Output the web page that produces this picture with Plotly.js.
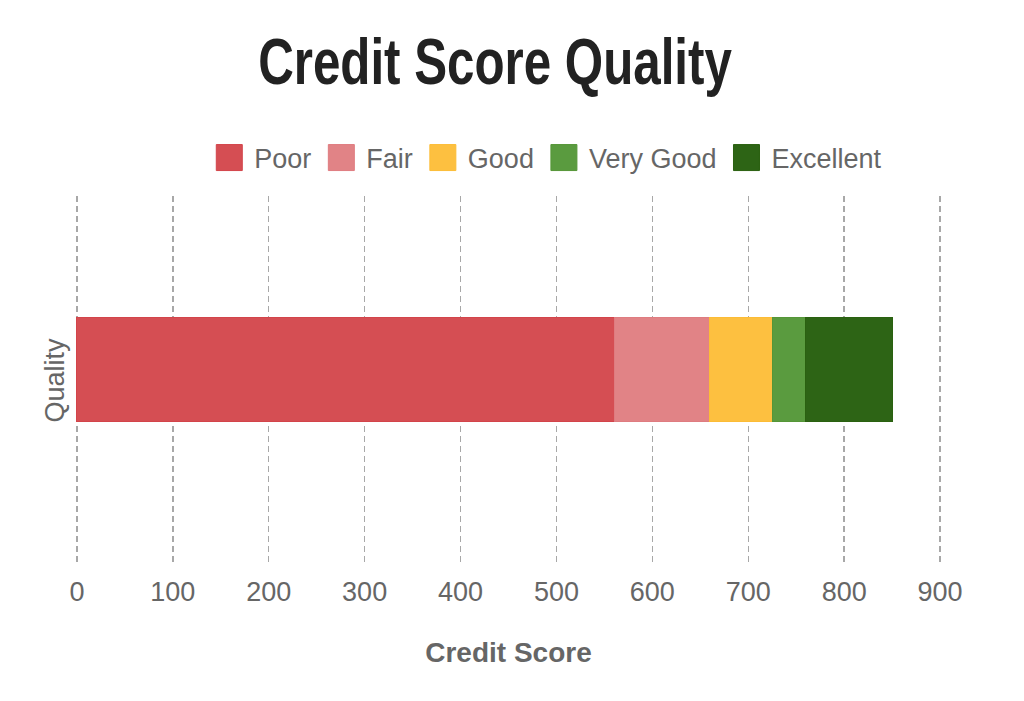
<!DOCTYPE html>
<html>
<head>
<meta charset="utf-8">
<script src="https://cdn.plot.ly/plotly-3.0.1.min.js"></script>
<style>html,body{margin:0;padding:0;background:#fff;}#chart{width:1024px;height:701px;}</style>
</head>
<body>
<div id="chart"></div>
<script>
// Data
const category = ["Quality"];
const seriesNames = ["Poor", "Fair", "Good", "Very Good", "Excellent"];
const seriesValues = [560, 100, 65, 35, 90];
const xTickValues = [0, 100, 200, 300, 400, 500, 600, 700, 800, 900];

const fillColors = ["#d54e53", "#e18386", "#fdc040", "#5a9b3f", "#2d6415"];
const lineColors = ["#d3444a", "#df7c80", "#fcbc36", "#559637", "#2a6110"];

const traces = seriesNames.map((name, i) => ({
  type: "bar",
  orientation: "h",
  name: name,
  y: category,
  x: [seriesValues[i]],
  width: 0.283,
  marker: { color: fillColors[i], line: { color: lineColors[i], width: 1 } },
  hoverinfo: "x+name"
}));

const layout = {
  width: 1024,
  height: 701,
  paper_bgcolor: "#ffffff",
  plot_bgcolor: "#ffffff",
  barmode: "stack",
  margin: { l: 75, r: 82, t: 196, b: 136 },
  font: { family: "Liberation Sans, Arial, sans-serif", color: "#666666", size: 27 },
  title: {
    text: "Credit Score Quality",
    font: { family: "Liberation Sans, Arial, sans-serif", size: 64, color: "#222222", weight: "bold" },
    xref: "container", x: 0.4834, xanchor: "center",
    yref: "container", y: 0.912, yanchor: "middle"
  },
  showlegend: true,
  legend: {
    orientation: "h",
    xref: "container", x: 0.533, xanchor: "center",
    yref: "container", y: 1 - 158 / 701, yanchor: "middle",
    font: { family: "Liberation Sans, Arial, sans-serif", size: 27, color: "#666666" },
    itemwidth: 40,
    traceorder: "normal",
    itemclick: false
  },
  xaxis: {
    range: [-2, 902],
    tickvals: xTickValues,
    ticktext: xTickValues.map(String),
    showgrid: true,
    gridcolor: "#a8a8a8",
    griddash: "6px,4px",
    gridwidth: 1.5,
    zeroline: false,
    showline: false,
    ticks: "",
    ticklabelstandoff: 8,
    tickfont: { family: "Liberation Sans, Arial, sans-serif", size: 27, color: "#666666" },
    title: {
      text: "Credit Score",
      font: { family: "Liberation Sans, Arial, sans-serif", size: 28, color: "#666666", weight: "bold" },
      standoff: 36
    },
    fixedrange: true
  },
  yaxis: {
    type: "category",
    range: [-0.53, 0.47],
    showticklabels: false,
    showgrid: false,
    zeroline: false,
    showline: false,
    ticks: "",
    title: {
      text: "Quality",
      font: { family: "Liberation Sans, Arial, sans-serif", size: 27, color: "#666666" },
      standoff: 1
    },
    fixedrange: true
  }
};

Plotly.newPlot("chart", traces, layout, { displayModeBar: false, staticPlot: true }).then(() => {
  document.querySelectorAll(".legendpoints path").forEach(p => {
    p.setAttribute("d", "M13,13H-13V-13H13Z");
  });
  // Condense the title horizontally to mimic the narrow display face
  const t = document.querySelector(".gtitle");
  if (t) {
    const cx = parseFloat(t.getAttribute("x"));
    t.setAttribute("transform", "translate(" + cx + ",0) scale(0.77,1) translate(" + (-cx) + ",0)");
  }
});
</script>
</body>
</html>
